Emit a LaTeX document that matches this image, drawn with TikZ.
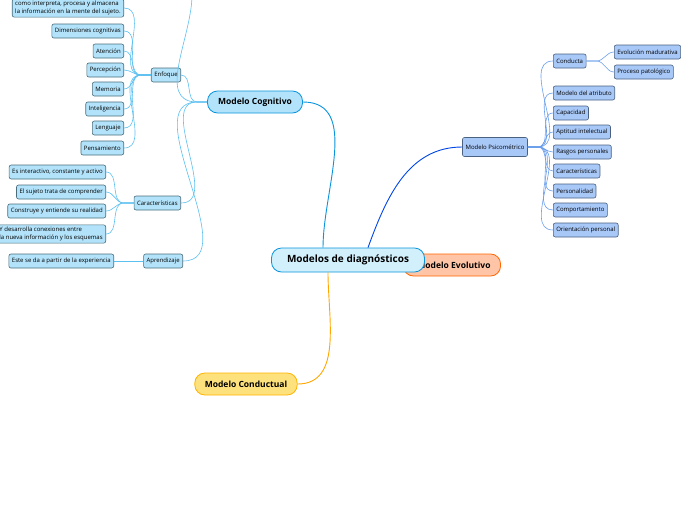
\documentclass[tikz,border=0pt]{standalone}
\usepackage{fontspec}
\setmainfont{Open Sans}
\begin{document}
\begin{tikzpicture}[x=1pt,y=-1pt,
 sm/.style={draw=#1!70!black,line width=0.6pt,rounded corners=2pt,font=\fontsize{6}{7.2}\selectfont,inner xsep=3pt,inner ysep=2.5pt,minimum height=14pt},
 cog/.style={sm=cogb,fill=cogf},
 psi/.style={sm=psib,fill=psif},
 big/.style={rounded corners=10pt,line width=0.8pt,font=\fontsize{8.5}{10}\selectfont\bfseries,minimum height=22pt,inner xsep=10pt},
 lc/.style={cogl,line width=0.6pt},
 lp/.style={psil,line width=0.6pt}]
\definecolor{cogf}{HTML}{B3E3FA}\definecolor{cogb}{HTML}{6A9AB0}\definecolor{cogl}{HTML}{5CC0F0}
\definecolor{psif}{HTML}{A8C8F8}\definecolor{psib}{HTML}{6A8AB8}\definecolor{psil}{HTML}{6A9EEA}
\useasboundingbox (0,0) rectangle (697,520);
\clip (0,0) rectangle (697,520);
% main nodes
\node[big,draw=orange!80!red,fill=red!30!orange!35,minimum width=93pt] (evo) at (452,265) {\hspace*{4pt}Modelo Evolutivo};
\node[big,draw=cyan!80!blue,fill=cyan!18,font=\fontsize{10}{12}\selectfont\bfseries,minimum width=153pt,minimum height=24pt] (cen) at (348,260) {Modelos de diagnósticos};
\node[big,draw=cyan!80!blue,fill=cogf,minimum width=95pt] (cog) at (255,102) {Modelo Cognitivo};
\node[big,draw=orange!60!yellow,fill=yellow!60!orange!50,minimum width=102pt] (con) at (246,384) {Modelo Conductual};
\node[psi,minimum width=65pt,minimum height=19pt] (psi) at (495,147) {Modelo Psicométrico};
\draw[cyan!80!blue,line width=0.9pt] (cen.north) ++(-25,0) to[out=90,in=0] (cog.east);
\draw[orange!70!yellow,line width=0.9pt] (cen.south) ++(-20,0) to[out=-90,in=0] (con.east);
\draw[blue!70!cyan!90!black,line width=0.9pt] (cen.north) ++(20,0) to[out=70,in=180] (psi.west);
% psicometrico children
\foreach \n/\y/\t in {p1/61/Conducta,p2/93/Modelo del atributo,p3/113/Capacidad,p4/132/Aptitud intelectual,p5/152/Rasgos personales,p6/171/Características,p7/191/Personalidad,p8/210/Comportamiento,p9/230/Orientación personal}{
 \node[psi,anchor=west] (\n) at (553,\y) {\t};
 \draw[lp] (psi.east) -- ++(10,0) to[out=0,in=180] (\n.west);}
\foreach \n/\y/\t in {q1/52/Evolución madurativa,q2/72/Proceso patológico}{
 \node[psi,anchor=west] (\n) at (614,\y) {\t};
 \draw[lp] (p1.east) -- ++(10,0) to[out=0,in=180] (\n.west);}
% cognitivo children
\node[cog,anchor=east] (enf) at (181,75) {Enfoque};
\node[cog,anchor=east] (car) at (181,203) {Características};
\node[cog,anchor=east] (apr) at (183,261) {Aprendizaje};
\coordinate (up) at (192,-5);
\foreach \n in {enf,car,apr}{\draw[lc] (cog.west) -- ++(-10,0) to[out=180,in=0] (\n.east);}
\draw[lc] (cog.west) -- ++(-10,0) to[out=180,in=-90] (up);
\node[cog,anchor=east,align=left] (e0) at (124,8) {como interpreta, procesa y almacena\\la información en la mente del sujeto.};
\foreach \n/\y/\t in {e1/31/Dimensiones cognitivas,e2/51/Atención,e3/70/Percepción,e4/89/Memoria,e5/109/Inteligencia,e6/128/Lenguaje,e7/148/Pensamiento}{
 \node[cog,anchor=east] (\n) at (124,\y) {\t};}
\foreach \n in {e0,e1,e2,e3,e4,e5,e6,e7}{\draw[lc] (enf.west) -- ++(-10,0) to[out=180,in=0] (\n.east);}
\foreach \n/\y/\t in {c1/172/{Es interactivo, constante y activo},c2/192/El sujeto trata de comprender,c3/211/Construye y entiende su realidad}{
 \node[cog,anchor=east] (\n) at (106,\y) {\t};}
\node[cog,anchor=east,align=left] (c4) at (106,234) {Y desarrolla conexiones entre\\la nueva información y los esquemas};
\foreach \n in {c1,c2,c3,c4}{\draw[lc] (car.west) -- ++(-10,0) to[out=180,in=0] (\n.east);}
\node[cog,anchor=east] (a1) at (114,261) {Este se da a partir de la experiencia};
\draw[lc] (apr.west) -- (a1.east);
\end{tikzpicture}
\end{document}
